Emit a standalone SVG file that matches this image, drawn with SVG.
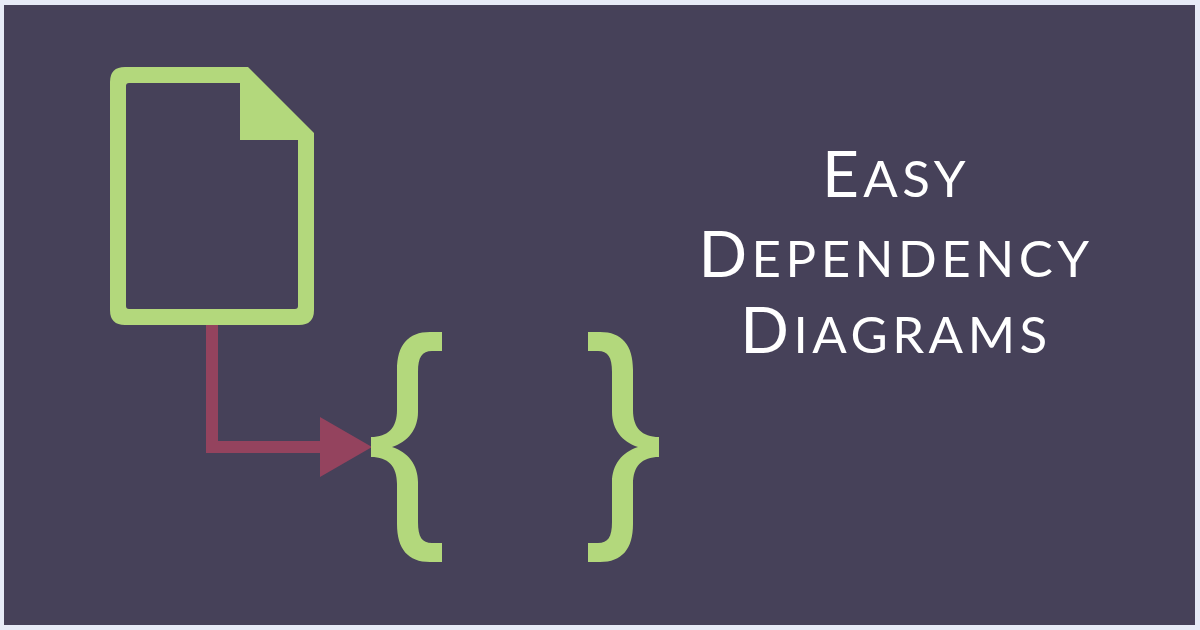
<svg xmlns="http://www.w3.org/2000/svg" width="1200" height="630" viewBox="0 0 1200 630">
<defs>
<style>
.green{fill:#b3d87c}
.link{fill:#94435e}
.title{font-family:Lato,"Open Sans","Liberation Sans",sans-serif;fill:#ffffff;text-anchor:middle;letter-spacing:4.5px}
.cap{font-size:64px}
.sc{font-size:51px}
</style>
<path id="brace" d="M442,332 H430 C408,332 397,345 397,370 V410 C397,428 388,437 371,437 V457 C388,457 397,466 397,484 V524 C397,549 408,562 430,562 H442 V543 H432 C422,543 418,537 418,522 V482 C418,465 408,452 392,447 C408,442 418,429 418,412 V372 C418,357 422,351 432,351 H442 Z"/>
</defs>
<rect x="0" y="0" width="1200" height="630" fill="#e7ebf7"/>
<rect x="4" y="5" width="1191" height="620" fill="#464159"/>
<g id="connectors">
<path class="link" d="M206,325 H218 V441 H320 V417 L372,447 L320,477 V453 H206 Z"/>
</g>
<g id="file">
<path class="green" fill-rule="evenodd" d="M125,67 H248 L314,133 V310 Q314,325 299,325 H125 Q110,325 110,310 V82 Q110,67 125,67 Z M129,83 H240 V140 H298 V306 Q298,309 295,309 H129 Q126,309 126,306 V86 Q126,83 129,83 Z"/>
</g>
<g id="braces">
<use href="#brace" class="green"/>
<use href="#brace" class="green" transform="translate(1030,0) scale(-1,1)"/>
</g>
<g id="title">
<text class="title" x="896" y="197"><tspan class="cap">E</tspan><tspan class="sc">ASY</tspan></text>
<text class="title" x="896" y="277"><tspan class="cap">D</tspan><tspan class="sc">EPENDENCY</tspan></text>
<text class="title" x="896" y="353"><tspan class="cap">D</tspan><tspan class="sc">IAGRAMS</tspan></text>
</g>
</svg>
